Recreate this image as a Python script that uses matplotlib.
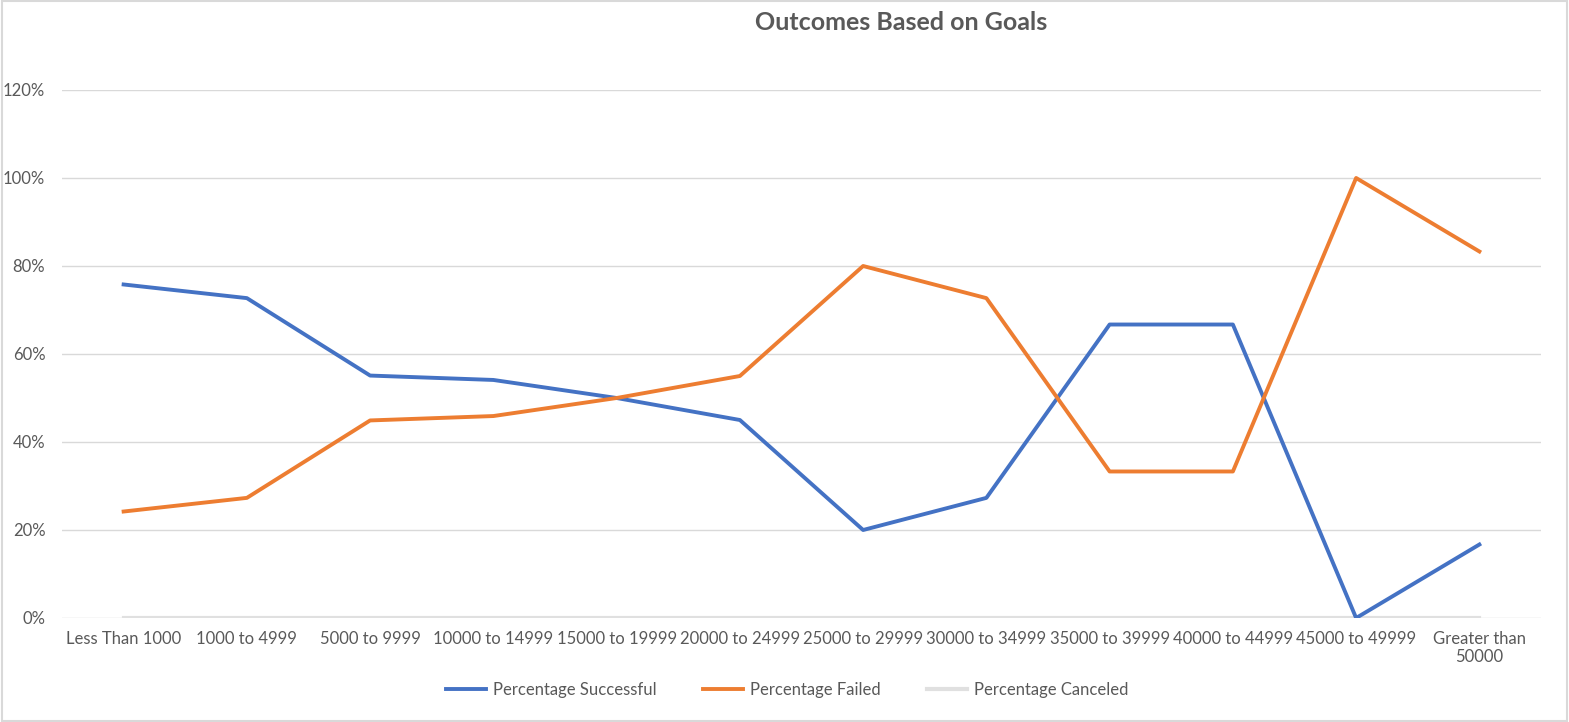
import matplotlib.pyplot as plt
from matplotlib.patches import Rectangle
from matplotlib.ticker import FuncFormatter

plt.rcParams['font.family'] = ['Lato', 'DejaVu Sans']

# данные
goals = ["Less Than 1000", "1000 to 4999", "5000 to 9999", "10000 to 14999",
         "15000 to 19999", "20000 to 24999", "25000 to 29999", "30000 to 34999",
         "35000 to 39999", "40000 to 44999", "45000 to 49999", "Greater than\n50000"]
pct_successful = [0.758, 0.727, 0.551, 0.541, 0.50, 0.45, 0.20, 0.273, 0.667, 0.667, 0.0, 0.167]
pct_failed = [0.242, 0.273, 0.449, 0.459, 0.50, 0.55, 0.80, 0.727, 0.333, 0.333, 1.0, 0.833]
pct_canceled = [0, 0, 0, 0, 0, 0, 0, 0, 0, 0, 0, 0]

fig = plt.figure(figsize=(15.69, 7.22), dpi=100)
ax = fig.add_axes([62 / 1569, 1 - 618 / 722, (1541 - 62) / 1569, (618 - 90) / 722])

x = range(len(goals))
ax.plot(x, pct_successful, color='#4472C4', lw=2.8, label='Percentage Successful', zorder=3)
ax.plot(x, pct_failed, color='#ED7D31', lw=2.8, label='Percentage Failed', zorder=3)
ax.plot(x, pct_canceled, color='#E0E0E0', lw=3, label='Percentage Canceled', zorder=2)

ax.set_xlim(-0.5, len(goals) - 0.5)
ax.set_ylim(0, 1.2)
ax.set_yticks([0, 0.2, 0.4, 0.6, 0.8, 1.0, 1.2])
ax.yaxis.set_major_formatter(FuncFormatter(lambda v, _: f"{v:.0%}"))
ax.set_xticks(list(x))
ax.set_xticklabels(goals)
ax.tick_params(length=0, labelsize=12, labelcolor='#595959')
ax.tick_params(axis='x', pad=9)
ax.tick_params(axis='y', pad=12)
ax.grid(axis='y', color='#D9D9D9', lw=1)
ax.set_axisbelow(True)
for s in ax.spines.values():
    s.set_visible(False)

fig.text(901 / 1569, 1 - 22 / 722, "Outcomes Based on Goals", ha='center', va='center',
         fontsize=18, fontweight='bold', color='#595959')

fig.legend(loc='center', bbox_to_anchor=(787 / 1569, 1 - 690 / 722), ncol=3, frameon=False,
           fontsize=12, labelcolor='#595959', handlelength=2.4, handletextpad=0.4,
           columnspacing=2.8)

fig.patches.append(Rectangle((0.001, 0.001), 0.998, 0.997, transform=fig.transFigure,
                             fill=False, edgecolor='#D9D9D9', lw=1.5))

fig.savefig('out.png', dpi=100)
